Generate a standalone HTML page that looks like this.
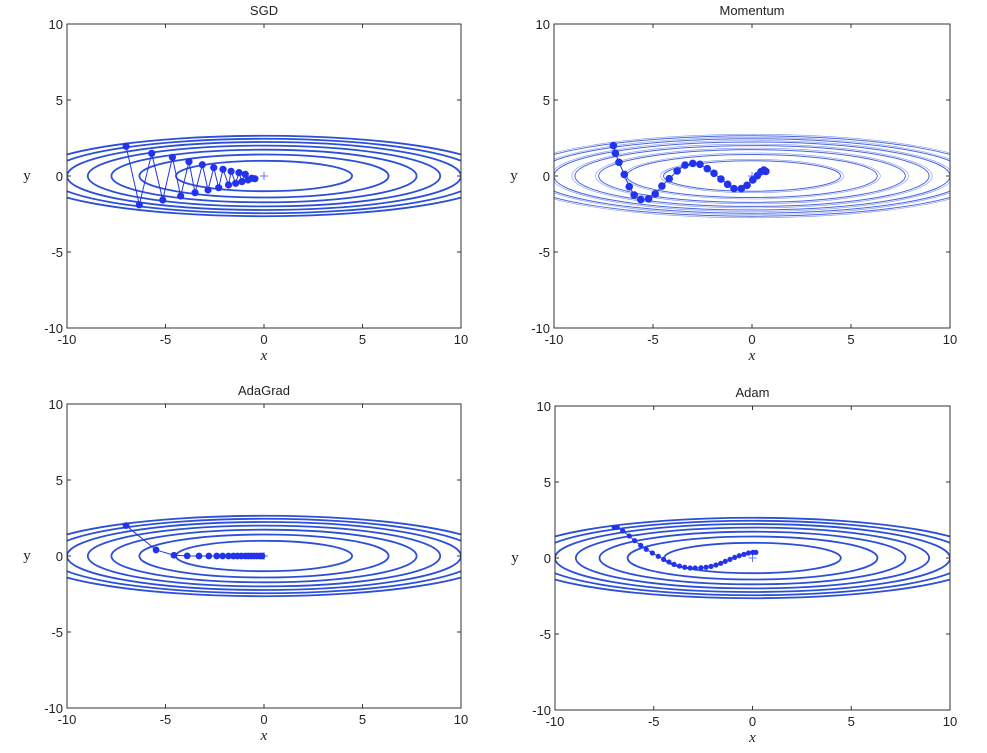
<!DOCTYPE html>
<html><head><meta charset="utf-8"><style>
body{margin:0;background:#fff;width:987px;height:753px;overflow:hidden}
svg{display:block}
text{font-family:"Liberation Sans",sans-serif;font-size:13px;fill:#222}
</style></head><body>
<svg id="chart" width="987" height="753" viewBox="0 0 987 753"></svg>
<script>
// ---- data ----
const contourLevels = [1, 2, 3, 4, 5, 6, 7];
const tickValues = [-10, -5, 0, 5, 10];
const sgdX = [-7,-6.33,-5.7,-5.14,-4.65,-4.23,-3.81,-3.5,-3.13,-2.84,-2.55,-2.3,-2.08,-1.8,-1.67,-1.44,-1.27,-1.12,-0.95,-0.81,-0.62,-0.46];
const sgdY = [1.95,-1.9,1.49,-1.58,1.23,-1.32,0.94,-1.1,0.74,-0.92,0.55,-0.77,0.44,-0.59,0.31,-0.48,0.22,-0.37,0.11,-0.26,-0.15,-0.18];
const momX = [-7,-6.9,-6.72,-6.45,-6.2,-5.95,-5.62,-5.22,-4.89,-4.55,-4.18,-3.78,-3.38,-2.99,-2.63,-2.26,-1.92,-1.57,-1.23,-0.91,-0.54,-0.25,0.04,0.27,0.45,0.6,0.7];
const momY = [2,1.5,0.9,0.1,-0.7,-1.25,-1.55,-1.5,-1.18,-0.66,-0.18,0.33,0.72,0.83,0.77,0.48,0.18,-0.2,-0.55,-0.83,-0.83,-0.61,-0.26,0.02,0.28,0.39,0.3];
const adaX = [-7,-5.48,-4.57,-3.9,-3.3,-2.8,-2.4,-2.1,-1.8,-1.55,-1.35,-1.15,-0.95,-0.8,-0.65,-0.5,-0.35,-0.2,-0.1];
const adaY = [2,0.4,0.05,0.01,0,0,0,0,0,0,0,0,0,0,0,0,0,0,0];
const adamX = [-7,-6.85,-6.57,-6.24,-5.97,-5.66,-5.38,-5.07,-4.77,-4.5,-4.23,-3.97,-3.7,-3.43,-3.16,-2.9,-2.61,-2.35,-2.1,-1.85,-1.61,-1.38,-1.14,-0.9,-0.67,-0.43,-0.2,0.02,0.17];
const adamY = [2,2.02,1.78,1.45,1.14,0.83,0.57,0.33,0.11,-0.09,-0.26,-0.42,-0.53,-0.61,-0.66,-0.66,-0.64,-0.61,-0.55,-0.46,-0.35,-0.22,-0.09,0.04,0.15,0.24,0.33,0.37,0.37];

const NS = "http://www.w3.org/2000/svg";
const svg = document.getElementById('chart');
function mk(tag, attrs, parent){const e=document.createElementNS(NS,tag);for(const k in attrs)e.setAttribute(k,attrs[k]);(parent||svg).appendChild(e);return e;}

const panels = [
 {id:'sgd', title:'SGD', l:67,r:461,t:24,b:328, xs:sgdX, ys:sgdY, rad:3.6, lw:1, cw:1.8, ccol:'#2b4fd8'},
 {id:'momentum', title:'Momentum', l:554,r:950,t:24,b:328, xs:momX, ys:momY, rad:3.8, lw:1, cw:1, ccol:'#4a66e0'},
 {id:'adagrad', title:'AdaGrad', l:67,r:461,t:404,b:708, xs:adaX, ys:adaY, rad:3.4, lw:1, cw:1.8, ccol:'#2b4fd8'},
 {id:'adam', title:'Adam', l:555,r:950,t:406,b:710, xs:adamX, ys:adamY, rad:2.6, lw:1, cw:1.8, ccol:'#2b4fd8'}
];

panels.forEach((p,pi)=>{
  const g = mk('g',{});
  
  
  const sx = v => p.l + (v+10)/20*(p.r-p.l);
  const sy = v => p.b - (v+10)/20*(p.b-p.t);
  const cx = 'clip'+pi;
  const cp = mk('clipPath',{id:cx},g);
  mk('rect',{x:p.l,y:p.t,width:p.r-p.l,height:p.b-p.t},cp);
  const cg = mk('g',{'clip-path':'url(#'+cx+')'},g);
  contourLevels.forEach(c=>{
    const e = mk('ellipse',{cx:sx(0),cy:sy(0),rx:Math.sqrt(20*c)*(p.r-p.l)/20,ry:Math.sqrt(c)*(p.b-p.t)/20,fill:'none',stroke:p.ccol,'stroke-width':p.cw},cg);
    
    
    if(p.id==='momentum'){ mk('ellipse',{cx:sx(0),cy:sy(0),rx:Math.sqrt(20*c)*(p.r-p.l)/20+3,ry:Math.sqrt(c)*(p.b-p.t)/20+1.5,fill:'none',stroke:p.ccol,'stroke-width':0.6,opacity:0.7},cg); }
  });
  // origin marker
  mk('path',{d:`M${sx(0)-4},${sy(0)}h8M${sx(0)},${sy(0)-4}v8`,stroke:'#6677ee','stroke-width':1},cg);
  // trajectory
  const line = mk('polyline',{points:p.xs.map((x,i)=>sx(x)+','+sy(p.ys[i])).join(' '),fill:'none',stroke:'#2233ee','stroke-width':p.lw},cg);
  
  
  p.xs.forEach((x,i)=>{
    const d = mk('circle',{cx:sx(x),cy:sy(p.ys[i]),r:p.rad,fill:'#2233ee'},cg);
    
    
  });
  // frame
  const fr = mk('rect',{x:p.l,y:p.t,width:p.r-p.l,height:p.b-p.t,fill:'none',stroke:'#333','stroke-width':1},g);
  
  
  tickValues.forEach(v=>{
    mk('line',{x1:sx(v),x2:sx(v),y1:p.b,y2:p.b-4,stroke:'#333'},g);
    mk('line',{x1:sx(v),x2:sx(v),y1:p.t,y2:p.t+4,stroke:'#333'},g);
    mk('line',{x1:p.l,x2:p.l+4,y1:sy(v),y2:sy(v),stroke:'#333'},g);
    mk('line',{x1:p.r,x2:p.r-4,y1:sy(v),y2:sy(v),stroke:'#333'},g);
    const xt = mk('text',{x:sx(v),y:p.b+16,'text-anchor':'middle'},g); xt.textContent=v;
    
    
    const yt = mk('text',{x:p.l-4,y:sy(v)+5,'text-anchor':'end'},g); yt.textContent=v;
    
    
  });
  const ti = mk('text',{x:(p.l+p.r)/2,y:p.t-9,'text-anchor':'middle'},g); ti.textContent=p.title;
  
  
  const xl = mk('text',{x:sx(0),y:p.b+32,'text-anchor':'middle',style:'font-family:"Liberation Serif",serif;font-style:italic;font-size:15px'},g); xl.textContent='x';
  
  
  const yl = mk('text',{x:p.l-40,y:sy(0)+4,'text-anchor':'middle',style:'font-family:"Liberation Serif",serif;font-size:15px'},g); yl.textContent='y';
  
  
});
</script>
</body></html>
